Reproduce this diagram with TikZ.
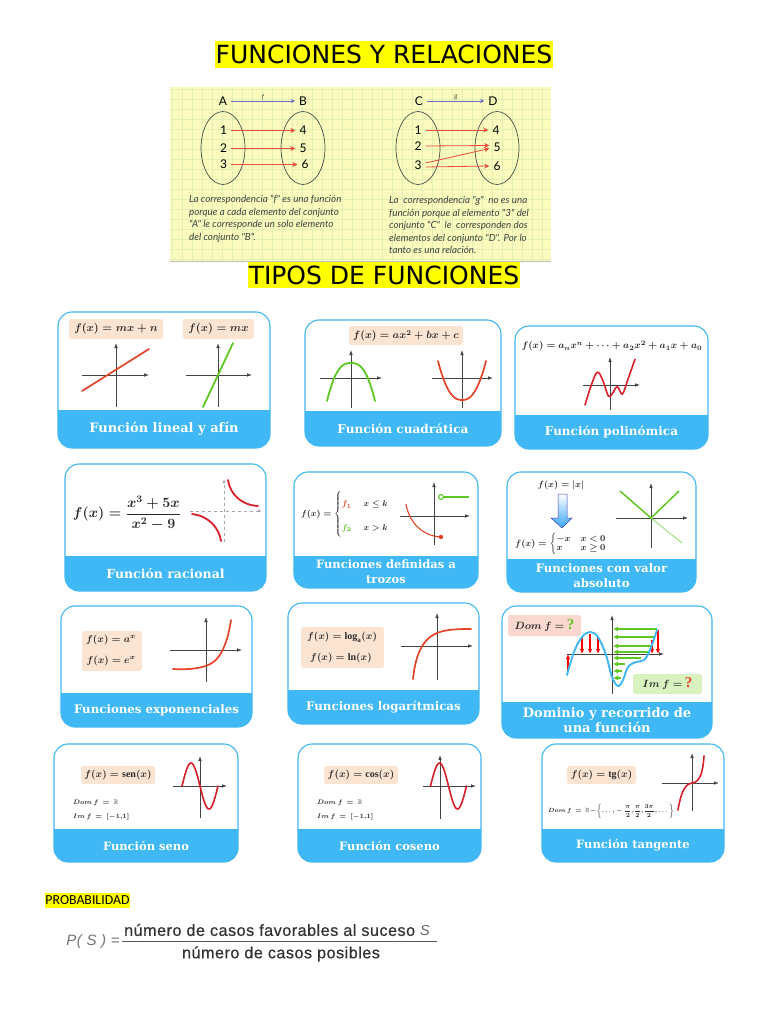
\RequirePackage{fix-cm}
\documentclass[tikz,border=0pt]{standalone}
\usepackage{amsmath,amssymb}
\usepackage{fontspec}
\setmainfont{Liberation Serif}
\newfontfamily\headfont{DejaVu Sans}
\newfontfamily\cardfont{DejaVu Serif}
\newfontfamily\handfont{Lato}
\newfontfamily\probfont{Carlito}
\newfontfamily\fracfont[LetterSpace=3,FakeBold=0.5]{Liberation Sans}
\newfontfamily\pfont[LetterSpace=3]{Liberation Sans}
\usetikzlibrary{arrows.meta,calc,shadings}
\definecolor{cardblue}{HTML}{3FB8F5}
\definecolor{pillc}{HTML}{FCE4D3}
\definecolor{pinkc}{HTML}{FAD7CF}
\definecolor{palegreen}{HTML}{D8F2C0}
\definecolor{redc}{HTML}{E5432A}
\definecolor{maplred}{HTML}{EE4B3A}
\definecolor{deepred}{HTML}{D9202A}
\definecolor{greenc}{HTML}{5EC722}
\definecolor{paper}{HTML}{FBFBBE}
\definecolor{gridc}{HTML}{E0F0B4}
\definecolor{hl}{HTML}{FFFF00}
\definecolor{inkc}{HTML}{2A2A2A}
\definecolor{axisc}{HTML}{444444}
\tikzset{
  cardtitle/.style={text=white,font=\cardfont\bfseries\fontsize{#1}{15}\selectfont,align=center,inner sep=0pt},
  cardtitle/.default=11.8,
  eq/.style={text=inkc,inner sep=0pt,font=\fontsize{#1}{#1}\selectfont\boldmath},
  eq/.default=11,
  axisline/.style={draw=axisc,line width=0.8pt,-{Latex[length=5pt,width=3.6pt]}},
  curvered/.style={draw=redc,line width=1.7pt,line cap=round},
  curvegreen/.style={draw=greenc,line width=1.8pt,line cap=round},
  heading/.style={fill=hl,inner sep=0pt,text=black,font=\headfont\fontsize{25}{27}\selectfont},
  hand/.style={text=black!75,inner sep=0pt,anchor=north west,align=left,font=\handfont\itshape\fontsize{9.8}{12.6}\selectfont},
  setlabel/.style={inner sep=4pt,text=black,font=\handfont\fontsize{12}{13}\selectfont},
  setcurve/.style={draw=black!70,line width=0.7pt},
  mapblue/.style={draw=blue!45!gray!80,line width=0.6pt,-{Stealth[length=4pt,width=4pt]}},
  mapred/.style={draw=maplred,line width=0.8pt,-{Stealth[length=5pt,width=5pt]}},
  upred/.style={draw=red,line width=1.2pt,-{Latex[length=5pt,width=4.5pt]}},
  leftgreen/.style={draw=greenc,line width=1.4pt,-{Latex[length=5pt,width=5pt]}},
  sinecurve/.style={draw=deepred,line width=1.6pt,line cap=round},
}
\newcommand\card[8][11.8]{%
  \begin{scope}
    \clip[rounded corners=14] (#3,#4) rectangle (#5,#7);
    \fill[white] (#3,#4) rectangle (#5,#7);
    \fill[cardblue] (#3,#6) rectangle (#5,#7);
  \end{scope}
  \draw[cardblue,line width=1.1pt,rounded corners=14] (#3,#4) rectangle (#5,#7);
  \node[cardtitle=#1] (#2) at ($(#3,#6)!.5!(#5,#7)$) {#8};
}
\newcommand\pillbox[5]{\fill[#5,rounded corners=2.5] (#1,#2) rectangle (#3,#4);}
\newcommand\axes[6]{%
  \draw[axisline] (#1,#3) -- (#2,#3);
  \draw[axisline] (#4,#6) -- (#4,#5);
}
\begin{document}
\begin{tikzpicture}[x=1pt,y=-1pt]
\useasboundingbox (0,0) rectangle (768,1024);
\fill[white] (0,0) rectangle (768,1024);

% headings
\node[heading,minimum width=338,minimum height=27] (title) at (384,54.5) {FUNCIONES Y RELACIONES};
\node[heading,minimum width=272,minimum height=26] (tipos) at (384,275) {TIPOS DE FUNCIONES};

% graph paper
\fill[paper] (170,87) rectangle (551,261);
\begin{scope}
  \clip (170,87) rectangle (551,261);
  \foreach \i in {0,...,38} \draw[gridc,line width=0.6pt] (172+\i*10,87) -- (172+\i*10,261);
  \foreach \i in {0,...,17} \draw[gridc,line width=0.6pt] (170,89+\i*10) -- (551,89+\i*10);
\end{scope}
\fill[black!25] (170,261) rectangle (551,262);

\draw[setcurve] (223,148) ellipse [x radius=22,y radius=36.5];
\draw[setcurve] (303,148) ellipse [x radius=22,y radius=36.5];
\draw[setcurve] (418,148) ellipse [x radius=22,y radius=36.5];
\draw[setcurve] (497,148) ellipse [x radius=22,y radius=36.5];

\node[setlabel] (setA) at (223,101) {A};
\node[setlabel] (setB) at (303,101) {B};
\node[setlabel] (setC) at (419,101) {C};
\node[setlabel] (setD) at (493,101) {D};
\draw[mapblue] (setA) -- node[above=-1pt,inner sep=1.5pt,font=\handfont\itshape\fontsize{7}{8}\selectfont,text=black!70] (flab) {f} (setB);
\draw[mapblue] (setC) -- node[above=-1pt,inner sep=1.5pt,font=\handfont\itshape\fontsize{7}{8}\selectfont,text=black!70] (glab) {g} (setD);

\node[setlabel] (a1) at (223.5,130.5) {1};
\node[setlabel] (a2) at (223.5,148.5) {2};
\node[setlabel] (a3) at (223.5,164.5) {3};
\node[setlabel] (b4) at (303,130.5) {4};
\node[setlabel] (b5) at (303,148.5) {5};
\node[setlabel] (b6) at (305,164.5) {6};
\draw[mapred] (a1) -- (b4);
\draw[mapred] (a2) -- (b5);
\draw[mapred] (a3) -- (b6);

\node[setlabel] (c1) at (418,130) {1};
\node[setlabel] (c2) at (418,146) {2};
\node[setlabel] (c3) at (418,165) {3};
\node[setlabel] (d4) at (496,130) {4};
\node[setlabel] (d5) at (497,147) {5};
\node[setlabel] (d6) at (497,166) {6};
\draw[mapred] (c1) -- (d4);
\draw[mapred] (c2.east) -- ([yshift=1.5pt]d5.west);
\draw[mapred] ([yshift=2pt]c3.east) -- ([yshift=-1.5pt]d5.west);
\draw[mapred] ([yshift=-2pt]c3.east) -- (d6.west);

\node[hand] (textf) at (189,195) {La correspondencia "f" es una función\\porque a cada elemento del conjunto\\"A" le corresponde un solo elemento\\del conjunto "B".};
\node[hand] (textg) at (389,196) {La\ \ correspondencia "g"\ \ no es una\\función porque al elemento "3" del\\conjunto "C"\ \ le\ \ corresponden dos\\elementos del conjunto "D". Por lo\\tanto es una relación.};

% ---- lineal
\card[13]{t1}{58}{312}{270}{410}{448}{Función lineal y afín}
\pillbox{69}{319}{163}{339}{pillc}
\pillbox{183}{319}{254}{339}{pillc}
\node[eq=11] (e1a) at (116,329) {$f(x)=mx+n$};
\node[eq=11] (e1b) at (218.5,329) {$f(x)=mx$};
\axes{82}{149}{375}{116}{343}{407}
\draw[curvered] (82,391) -- (149,349);
\axes{186}{252}{375}{218}{343}{407}
\draw[curvegreen] (203,407) -- (233,343);

% ---- cuadratica
\card[12.1]{t2}{305}{320}{501}{411}{446}{Función cuadrática}
\pillbox{349}{326}{463}{345}{pillc}
\node[eq=10.5] (e2) at (406,336) {$f(x)=ax^2+bx+c$};
\axes{320}{382}{378}{351}{350}{408}
\draw[curvegreen] plot[smooth,domain=-24:24,samples=25] (351+\x,{363+38*pow(abs(\x)/24,2.6)});
\axes{432}{493}{378}{462}{350}{408}
\draw[curvered] plot[smooth,domain=-24:24,samples=25] (462+\x,{400-39*pow(abs(\x)/24,2.4)});

% ---- polinomica
\card[12]{t3}{515}{326}{708}{415}{449}{Función polinómica}
\node[eq=9.6] (e3) at (612,346) {$f(x)=a_nx^n+\cdots+a_2x^2+a_1x+a_0$};
\axes{583}{640}{385}{610}{357}{410}
\draw[sinecurve] plot[smooth,tension=0.65] coordinates {(585,405) (591,386) (597.3,372.3) (603,381) (608.3,396) (612,394) (617.3,386.7) (622.3,394) (628,379) (635,359.3)};

% ---- racional
\card[12.5]{t4}{65}{464}{266}{556}{591}{Función racional}
\node[eq=14.2] (e4) at (127,513) {$f(x)=\dfrac{x^3+5x}{x^2-9}$};
\draw[gray!70,dashed,line width=0.6pt,-{Latex[length=4pt,width=3pt]}] (190,511) -- (262,511);
\draw[gray!70,dashed,line width=0.6pt,-{Latex[length=4pt,width=3pt]}] (224,542) -- (224,479);
\draw[sinecurve,line width=1.8pt] (192,514) .. controls (209,516) and (219,528) .. (221,541);
\draw[sinecurve,line width=1.8pt] (228,480) .. controls (230,494) and (241,505) .. (258,506);

% ---- trozos
\card[11.5]{t5}{294}{472}{478}{556}{588}{Funciones definidas a\\trozos}
\node[eq=8.5] (e5) at (345,514) {$f(x)=\left\{\renewcommand{\arraystretch}{2.8}\begin{array}{@{}l@{\hspace{12pt}}l@{}}\textcolor{redc}{f_1} & x\le k\\ \textcolor{greenc}{f_2} & x>k\end{array}\right.$};
\axes{400}{470}{516}{434}{482}{545}
\draw[draw=redc,line width=1.1pt] (406,504) .. controls (409,522) and (422,536) .. (441,537);
\fill[redc] (441,537) circle (2.2);
\draw[greenc,line width=1.2pt] (443.5,497) -- (469,497);
\draw[greenc,line width=1.1pt,fill=white] (441,497) circle (2.4);

% ---- absoluto
\card[11.7]{t6}{507}{472}{696}{559}{592}{Funciones con valor\\absoluto}
\node[eq=9] (e6a) at (561,485) {$f(x)=|x|$};
\draw[draw=blue!50!gray,line width=0.5pt,top color=white,bottom color=cardblue!90!blue] (558,494) -- (567,494) -- (567,518) -- (572,518) -- (562,528) -- (551,518) -- (558,518) -- cycle;
\node[eq=9] (e6b) at (561,544) {$f(x)=\left\{\renewcommand{\arraystretch}{1}\begin{array}{@{}l@{\hspace{10pt}}l@{}}-x & x<0\\ x & x\ge 0\end{array}\right.$};
\axes{616}{688}{518}{651}{483}{548}
\draw[greenc!50,line width=1.2pt] (651,518) -- (682,543);
\draw[greenc,line width=1.5pt,line join=round] (620,491) -- (651,518) -- (679,491);

% ---- exponenciales
\card{t7}{61}{606}{252}{693}{727}{Funciones exponenciales}
\pillbox{82}{631}{142}{671}{pillc}
\node[eq=10] (e7a) at (111,640) {$f(x)=a^x$};
\node[eq=10] (e7b) at (111,661) {$f(x)=e^x$};
\axes{170}{242}{650}{206}{617}{682}
\draw[curvered] (173,669) .. controls (190,670) and (204,668) .. (212,663) .. controls (222,657) and (228,640) .. (231,620);

% ---- logaritmicas
\card{t8}{288}{603}{479}{690}{724}{Funciones logarítmicas}
\pillbox{301}{627}{384}{668}{pillc}
\node[eq=10] (e8a) at (342,637) {$f(x)=\log_{\mathrm a}(x)$};
\node[eq=10] (e8b) at (341,658) {$f(x)=\ln(x)$};
\axes{401}{473}{646}{437}{613}{680}
\draw[curvered] (413,679) .. controls (415,660) and (420,640) .. (437,633) .. controls (447,629) and (460,629) .. (471,629);

% ---- dominio
\card[13]{t9}{502}{606}{712}{702}{738}{Dominio y recorrido de\\una función}
\pillbox{508}{615}{581}{636}{pinkc}
\pillbox{633}{674}{702}{694}{palegreen}
\node[eq=10.5] (e9a) at (544.5,625.5) {$Dom\ f=$ \textcolor{greenc}{\bfseries\fontsize{15}{15}\selectfont ?}};
\node[eq=10.5] (e9b) at (667.5,684) {$Im\ f=$ \textcolor{redc}{\bfseries\fontsize{15}{15}\selectfont ?}};
\foreach \yy/\xx in {629/657,637/655,646/652,652/649,658/641,664/625,671/622,678/621} \draw[leftgreen] (\xx,\yy) -- (613,\yy);
\draw[axisline] (567,654) -- (664,654);
\draw[axisline] (612,694) -- (612,615);
\foreach \xx/\yy in {582/637,590/634,598/637,652/640,658/630} \draw[upred] (\xx,\yy) -- (\xx,654);
\draw[upred] (568,672) -- (568,654);
\draw[draw=cardblue,line width=1.9pt,line cap=round] plot[smooth,tension=0.6] coordinates {(567,675) (574,652) (582,637) (590,632) (598,637) (606,655) (612,677) (618,686) (623,680) (628,667) (636,662) (644,660) (650,650) (657,630)};

% ---- seno
\card[11.5]{t10}{54}{744}{238}{829}{862}{Función seno}
\pillbox{81}{766}{155}{784}{pillc}
\node[eq=10] (e10) at (118,775) {$f(x)=\mathrm{sen}(x)$};
\node[eq=6.5,anchor=west] (d10a) at (73,803) {$Dom\ f\ =\ \mathbb{R}$};
\node[eq=6.5,anchor=west] (d10b) at (73,817) {$Im\ f\ =\ [-1{,}1]$};
\axes{173}{227}{786}{200}{756}{818}
\draw[sinecurve] plot[smooth,domain=0:360,samples=37] ({182+\x/10},{786-23*sin(\x)});

% ---- coseno
\card[11.5]{t11}{298}{744}{481}{829}{862}{Función coseno}
\pillbox{324}{766}{398}{784}{pillc}
\node[eq=10] (e11) at (361,775) {$f(x)=\cos(x)$};
\node[eq=6.5,anchor=west] (d11a) at (317,803) {$Dom\ f\ =\ \mathbb{R}$};
\node[eq=6.5,anchor=west] (d11b) at (317,817) {$Im\ f\ =\ [-1{,}1]$};
\axes{423}{476}{786}{440}{755}{819}
\draw[sinecurve] plot[smooth,domain=-90:270,samples=37] ({439.5+\x/10},{786-23*cos(\x)});

% ---- tangente
\card[11.5]{t12}{542}{744}{724}{829}{862}{Función tangente}
\pillbox{567}{766}{636}{784}{pillc}
\node[eq=10] (e12) at (601.5,775) {$f(x)=\mathrm{tg}(x)$};
\node[eq=6,anchor=west] (d12) at (548,811) {$Dom\ f\ =\ \mathbb{R}\!-\!\left\{\dots{,}-\dfrac{\pi}{2}{,}\dfrac{\pi}{2}{,}\dfrac{3\pi}{2}{,}\dots\right\}$};
\axes{662}{719}{783}{692}{753}{811}
\draw[sinecurve] (678,810) .. controls (681,792) and (685,784) .. (692,783) .. controls (701,782) and (703,770) .. (704,756);

% ---- probabilidad
\node[fill=hl,inner sep=0pt,minimum width=85,minimum height=15,font=\probfont\fontsize{13.8}{14}\selectfont] (prob) at (87.5,900.5) {PROBABILIDAD};
\node[inner sep=0pt,text=black!55,font=\pfont\itshape\fontsize{15}{15}\selectfont] (ps) at (93,942) {P( S ) =};
\node[inner sep=0pt,text=black!80,font=\fracfont\fontsize{16.2}{16}\selectfont] (num) at (277,930) {número de casos favorables al suceso {\pfont\color{black!60}\itshape\fontsize{14.5}{16}\selectfont S}};
\node[inner sep=0pt,text=black!80,font=\fracfont\fontsize{16.2}{16}\selectfont] (den) at (281,954) {número de casos posibles};
\draw[black!65,line width=0.9pt] (122,941.5) -- (437,941.5);
\end{tikzpicture}
\end{document}
